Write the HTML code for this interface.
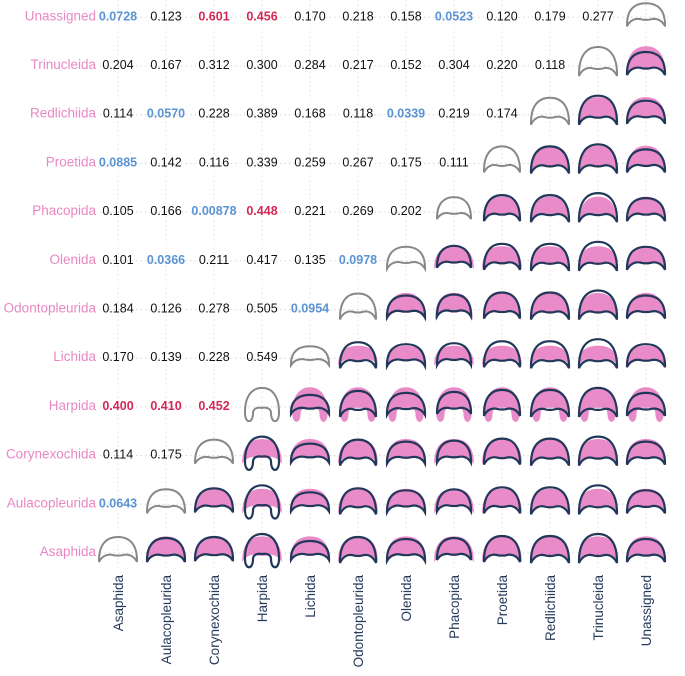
<!DOCTYPE html>
<html><head><meta charset="utf-8"><style>
body{margin:0;background:#fff;}
svg{display:block;font-family:"Liberation Sans",Arial,sans-serif;}
</style></head><body>
<svg id="chart" width="685" height="676" viewBox="0 0 685 676"></svg>
<script>
const orders=["Asaphida","Aulacopleurida","Corynexochida","Harpida","Lichida","Odontopleurida","Olenida","Phacopida","Proetida","Redlichiida","Trinucleida","Unassigned"];
const values={
11:["0.0728","0.123","0.601","0.456","0.170","0.218","0.158","0.0523","0.120","0.179","0.277"],
10:["0.204","0.167","0.312","0.300","0.284","0.217","0.152","0.304","0.220","0.118"],
9:["0.114","0.0570","0.228","0.389","0.168","0.118","0.0339","0.219","0.174"],
8:["0.0885","0.142","0.116","0.339","0.259","0.267","0.175","0.111"],
7:["0.105","0.166","0.00878","0.448","0.221","0.269","0.202"],
6:["0.101","0.0366","0.211","0.417","0.135","0.0978"],
5:["0.184","0.126","0.278","0.505","0.0954"],
4:["0.170","0.139","0.228","0.549"],
3:["0.400","0.410","0.452"],
2:["0.114","0.175"],
1:["0.0643"]};
const flags={
11:"bkrrkkkbkkk",10:"kkkkkkkkkk",9:"kbkkkkbkk",8:"bkkkkkkk",7:"kkbrkkk",6:"kbkkkb",5:"kkkkb",4:"kkkk",3:"rrr",2:"kk",1:"b"};
const shapeParams=[[19,14,11],[19,13,11],[19,14,10],[17,17,8],[19,10,9],[18,14,12],[19,12,10],[17,13,9],[18,15,11],[19,15,12],[19,17,12],[19,12,11]];
const NS="http://www.w3.org/2000/svg";
const svg=document.getElementById('chart');
const colX=c=>118+c*48.0;
const rowY=r=>551-r*48.7;
function el(t,a,p){const e=document.createElementNS(NS,t);for(const k in a)e.setAttribute(k,a[k]);(p||svg).appendChild(e);return e;}
function cephPath(o,cx,cy,s){
  let [w,ht,hb]=shapeParams[o];w*=s;ht*=s;hb*=s;
  const f=n=>n.toFixed(1);
  let d=`M${f(cx-w)},${f(cy+hb)} C${f(cx-w*1.02)},${f(cy-ht*0.5)} ${f(cx-w*0.6)},${f(cy-ht)} ${f(cx)},${f(cy-ht)} C${f(cx+w*0.6)},${f(cy-ht)} ${f(cx+w*1.02)},${f(cy-ht*0.5)} ${f(cx+w)},${f(cy+hb)}`;
  if(o===3){
    const sp=11*s, iw=w-8*s;
    d+=` C${f(cx+w)},${f(cy+hb+sp)} ${f(cx+iw)},${f(cy+hb+sp)} ${f(cx+iw)},${f(cy+hb)} C${f(cx+iw)},${f(cy+hb-4*s)} ${f(cx+w*0.3)},${f(cy+hb-6*s)} ${f(cx)},${f(cy+hb-5*s)} C${f(cx-w*0.3)},${f(cy+hb-6*s)} ${f(cx-iw)},${f(cy+hb-4*s)} ${f(cx-iw)},${f(cy+hb)} C${f(cx-iw)},${f(cy+hb+sp)} ${f(cx-w)},${f(cy+hb+sp)} ${f(cx-w)},${f(cy+hb)} Z`;
  } else {
    d+=` C${f(cx+w*0.85)},${f(cy+hb*0.45)} ${f(cx+w*0.55)},${f(cy+hb*0.25)} ${f(cx+w*0.3)},${f(cy+hb*0.35)} C${f(cx+w*0.15)},${f(cy+hb*0.42)} ${f(cx+w*0.08)},${f(cy+hb*0.45)} ${f(cx)},${f(cy+hb*0.4)} C${f(cx-w*0.08)},${f(cy+hb*0.45)} ${f(cx-w*0.15)},${f(cy+hb*0.42)} ${f(cx-w*0.3)},${f(cy+hb*0.35)} C${f(cx-w*0.55)},${f(cy+hb*0.25)} ${f(cx-w*0.85)},${f(cy+hb*0.45)} ${f(cx-w)},${f(cy+hb)} Z`;
  }
  return d;
}
for(let i=0;i<12;i++){
  const g=el('line',{x1:100,x2:670,y1:rowY(i)+2,y2:rowY(i)+2,stroke:'#d8d8d8','stroke-dasharray':'1.5,3','stroke-width':1});
  
  
  const v=el('line',{x1:colX(i),x2:colX(i),y1:0,y2:570,stroke:'#e2e2e2','stroke-dasharray':'1.5,3','stroke-width':1});
  
  
}
orders.forEach((o,i)=>{
  const t=el('text',{x:96,y:rowY(i)+5,'text-anchor':'end','font-size':13.5,fill:'#e887c4'});
  t.textContent=o;
  
  
  const c=el('text',{x:0,y:0,'text-anchor':'end','font-size':13.5,fill:'#263a5c',transform:`translate(${colX(i)+5},575) rotate(-90)`});
  c.textContent=o;
  
  
});
const colors={k:'#111',b:'#5b93d3',r:'#d42a55'};
for(let r=0;r<12;r++){
  for(let c=0;c<12;c++){
    const cx=colX(c),cy=rowY(r);
    if(c<r){
      const fl=flags[r][c];
      const t=el('text',{x:cx,y:cy+5,'text-anchor':'middle','font-size':12.5,fill:colors[fl],'font-weight':fl==='k'?'normal':'bold'});
      t.textContent=values[r][c];
      
      
    } else if(c===r){
      const p=el('path',{d:cephPath(r,cx,cy,1),fill:'none',stroke:'#888','stroke-width':2});
      
      
    } else {
      const p=el('path',{d:cephPath(r,cx,cy,1.04),fill:'#e98bc8',stroke:'none'});
      
      
      const q=el('path',{d:cephPath(c,cx,cy,1),fill:'none',stroke:'#22385a','stroke-width':2.2});
      
      
    }
  }
}
</script>
</body></html>
